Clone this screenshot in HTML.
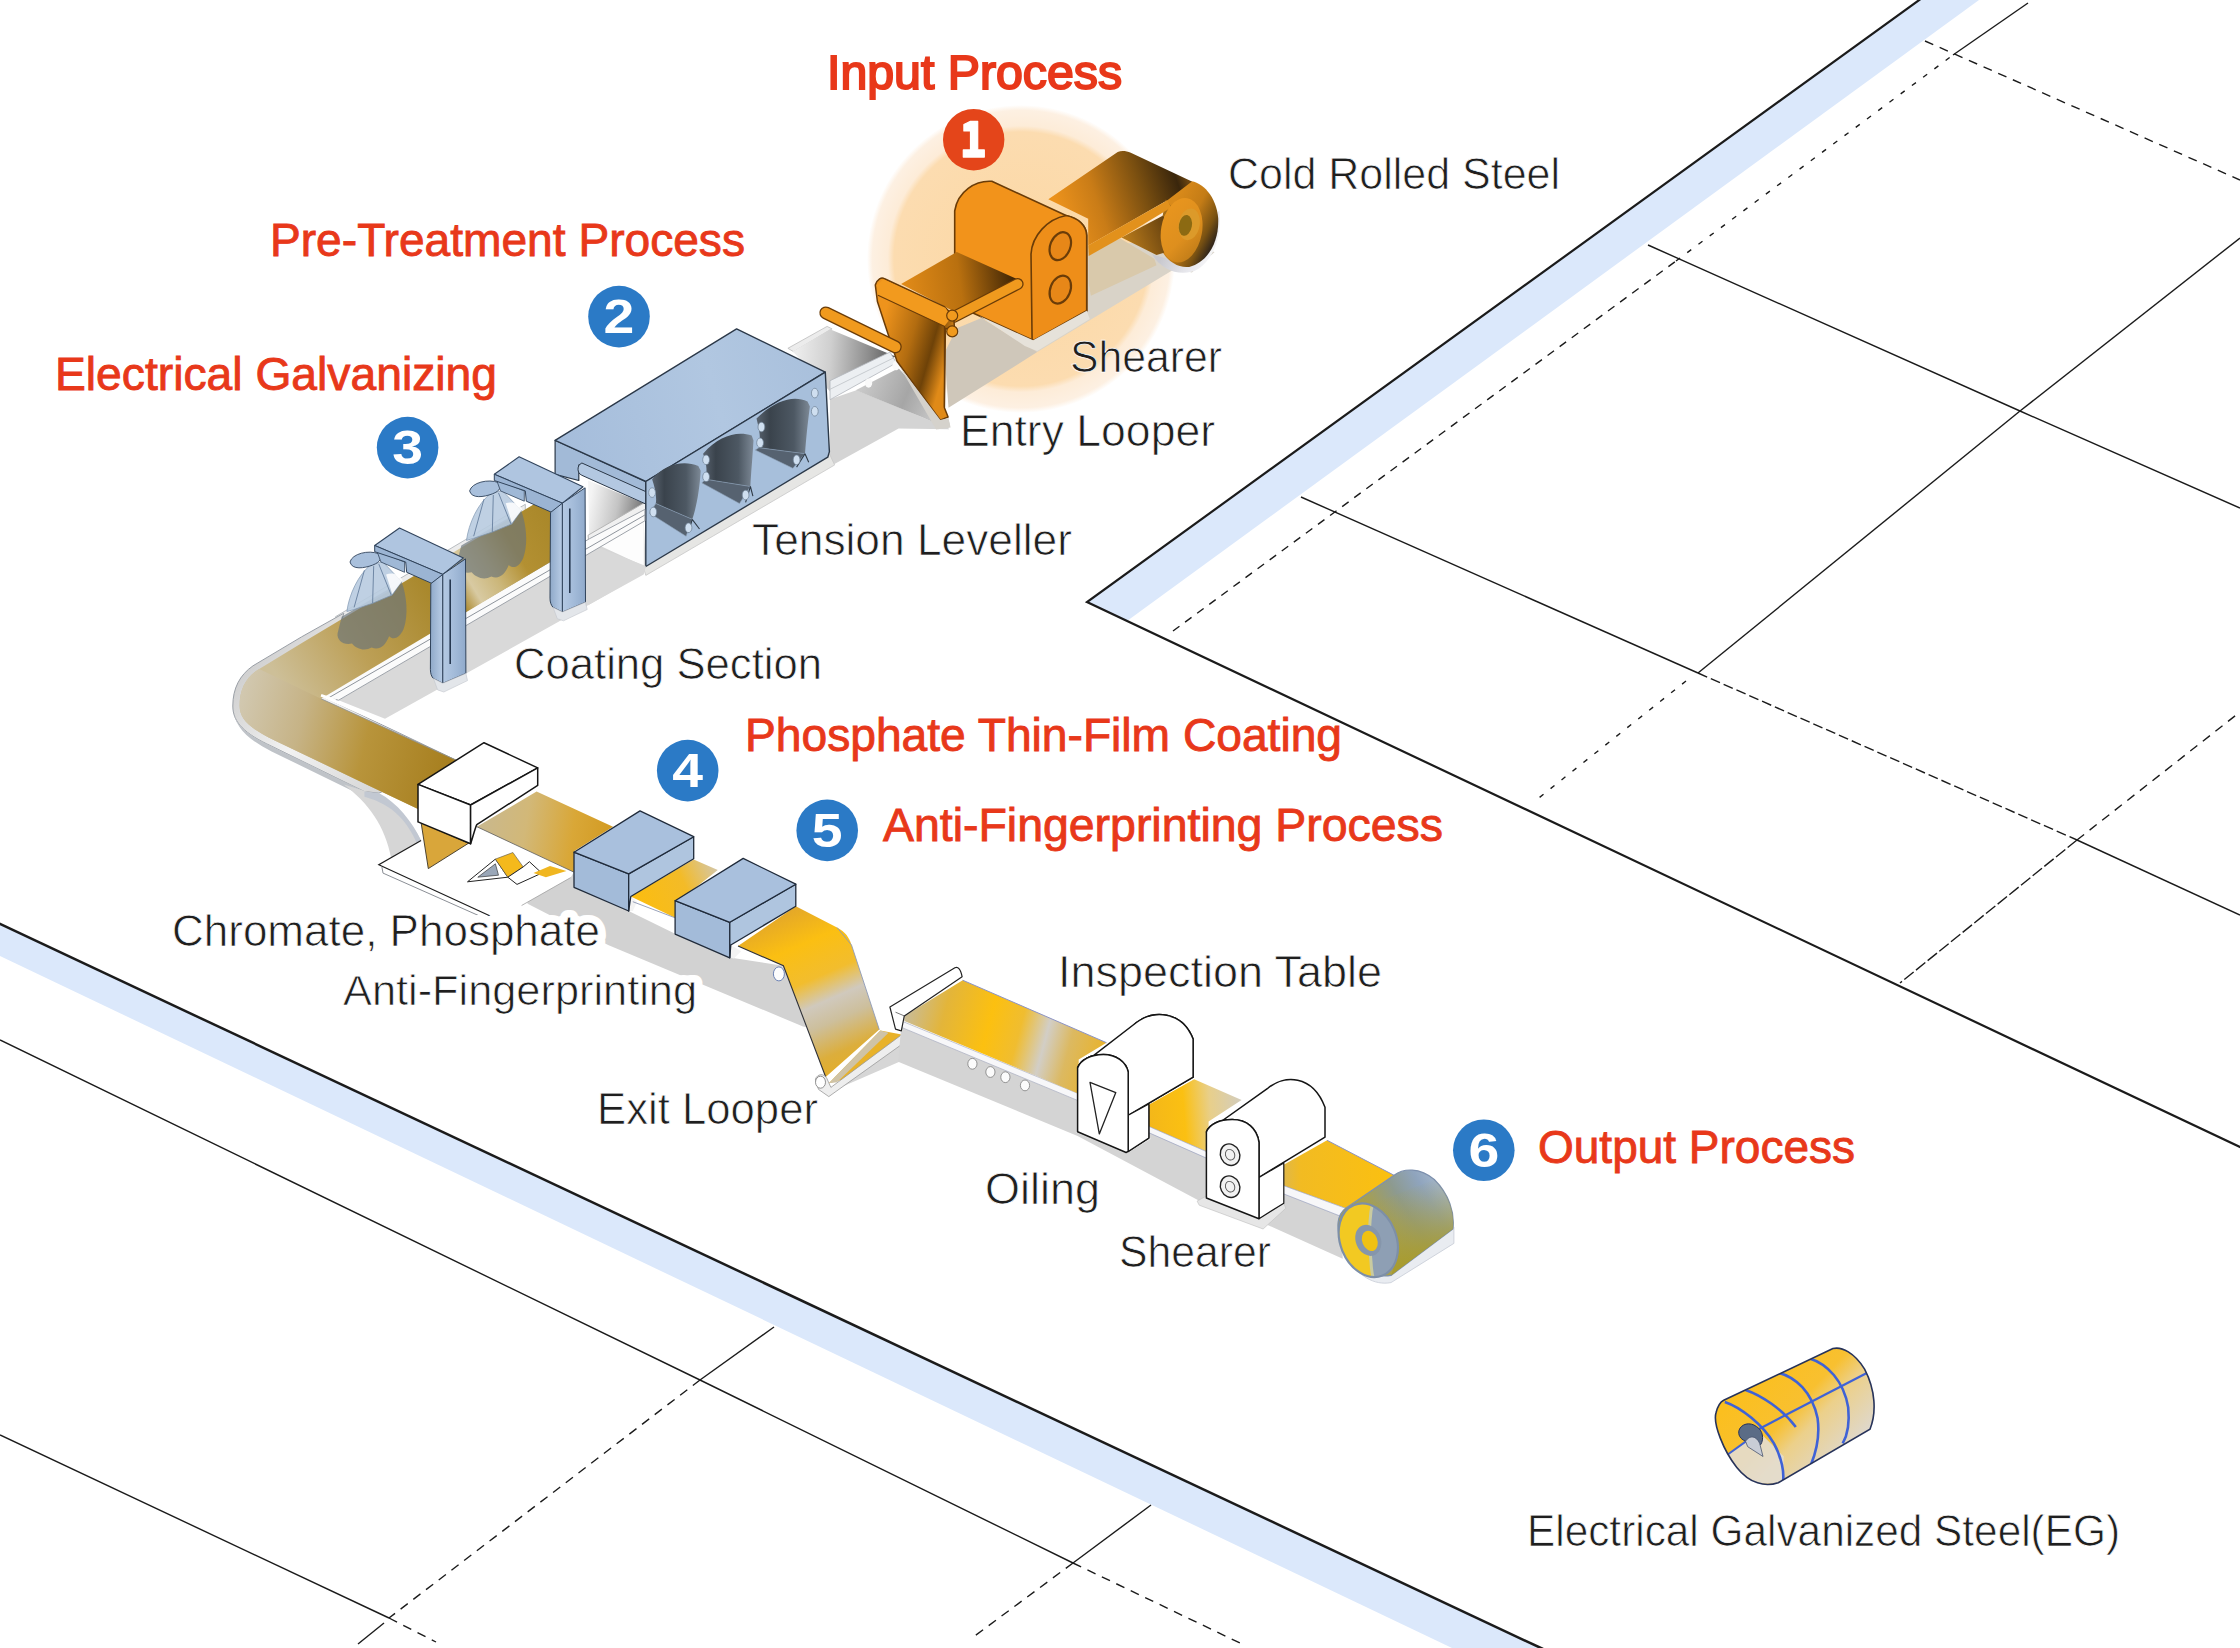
<!DOCTYPE html>
<html><head><meta charset="utf-8"><title>Electrical Galvanizing Process</title>
<style>
html,body{margin:0;padding:0;background:#fff;}
body{width:2240px;height:1648px;overflow:hidden;font-family:"Liberation Sans",sans-serif;}
svg{display:block}
text{font-family:"Liberation Sans",sans-serif;}
.h{fill:#e8381a;stroke:#e8381a;stroke-width:0.9;}
.l{fill:#1f1f1f;stroke:#fff;stroke-width:0.75;}
.n{fill:#fff;font-weight:bold;text-anchor:middle;}
</style></head><body>
<svg width="2240" height="1648" viewBox="0 0 2240 1648">
<defs>

<linearGradient id="gTr2" x1="790" y1="345" x2="880" y2="365" gradientUnits="userSpaceOnUse">
 <stop offset="0" stop-color="#f2f2f2"/><stop offset="0.5" stop-color="#c9c9c9"/><stop offset="1" stop-color="#8e8e8e"/>
</linearGradient>
<linearGradient id="gTr3" x1="590" y1="500" x2="645" y2="510" gradientUnits="userSpaceOnUse">
 <stop offset="0" stop-color="#f4f4f4"/><stop offset="0.5" stop-color="#c4c4c4"/><stop offset="1" stop-color="#6e6e6e"/>
</linearGradient>
<linearGradient id="gComp" x1="0" y1="0" x2="1" y2="0.3">
 <stop offset="0" stop-color="#3c4756"/><stop offset="0.5" stop-color="#5b6a7c"/><stop offset="1" stop-color="#93a7bf"/>
</linearGradient>
<linearGradient id="gLevTop" x1="560" y1="440" x2="820" y2="370" gradientUnits="userSpaceOnUse">
 <stop offset="0" stop-color="#a5bddb"/><stop offset="0.6" stop-color="#b1c7e1"/><stop offset="1" stop-color="#a9c0dc"/>
</linearGradient>


<linearGradient id="gTrI" x1="797.1" y1="354.3" x2="891.4" y2="360.0" gradientUnits="userSpaceOnUse">
 <stop offset="0" stop-color="#ececec"/><stop offset="0.35" stop-color="#cfcfcf"/><stop offset="0.75" stop-color="#8e8e8e"/><stop offset="1" stop-color="#5f5f5f"/>
</linearGradient>
<linearGradient id="gSup" x1="860.0" y1="388.6" x2="944.3" y2="422.9" gradientUnits="userSpaceOnUse">
 <stop offset="0" stop-color="#c9c9c9"/><stop offset="0.5" stop-color="#a6a6a6"/><stop offset="1" stop-color="#d2d2d2"/>
</linearGradient>

<linearGradient id="gComp2" x1="0" y1="0" x2="1" y2="0">
 <stop offset="0" stop-color="#59636f"/><stop offset="0.25" stop-color="#3a434c"/><stop offset="0.7" stop-color="#4d5863"/><stop offset="1" stop-color="#7d8996"/>
</linearGradient>

<linearGradient id="gStripC" x1="271.6" y1="667.2" x2="560.4" y2="493.9" gradientUnits="userSpaceOnUse">
 <stop offset="0" stop-color="#cdbf98"/><stop offset="0.25" stop-color="#bda057"/><stop offset="0.52" stop-color="#a9882c"/>
 <stop offset="0.585" stop-color="#b08f38"/><stop offset="0.635" stop-color="#d8caa2"/><stop offset="0.71" stop-color="#cbb679"/><stop offset="0.80" stop-color="#b39032"/><stop offset="1" stop-color="#a58426"/>
</linearGradient>
<linearGradient id="gStripD" x1="236.5" y1="701.9" x2="455.2" y2="755.5" gradientUnits="userSpaceOnUse">
 <stop offset="0" stop-color="#d2c9b2"/><stop offset="0.3" stop-color="#c6b386"/><stop offset="0.6" stop-color="#b8943b"/><stop offset="1" stop-color="#a67e1e"/>
</linearGradient>
<linearGradient id="gRimBend" x1="232.4" y1="681.3" x2="364.4" y2="796.8" gradientUnits="userSpaceOnUse">
 <stop offset="0" stop-color="#cfcfcf"/><stop offset="0.5" stop-color="#f2f2f2"/><stop offset="1" stop-color="#d8d8d8"/>
</linearGradient>


<radialGradient id="glow" cx="1021" cy="259" r="154" gradientUnits="userSpaceOnUse">
 <stop offset="0" stop-color="#fbd7a3"/><stop offset="0.825" stop-color="#fcdcb0"/>
 <stop offset="0.865" stop-color="#fdecd8"/><stop offset="0.965" stop-color="#fdf0e2"/><stop offset="1" stop-color="#fdf0e2" stop-opacity="0"/>
</radialGradient>
<linearGradient id="gStrip1" x1="1060" y1="215" x2="1185" y2="172" gradientUnits="userSpaceOnUse">
 <stop offset="0" stop-color="#ec921c"/><stop offset="0.3" stop-color="#c97c17"/><stop offset="0.65" stop-color="#7a4f10"/><stop offset="0.92" stop-color="#3a260c"/><stop offset="1" stop-color="#6a4410"/>
</linearGradient>
<linearGradient id="gCoil" x1="1172" y1="205" x2="1220" y2="230" gradientUnits="userSpaceOnUse">
 <stop offset="0" stop-color="#d98a1a"/><stop offset="0.45" stop-color="#c47c16"/><stop offset="0.8" stop-color="#7a5212"/><stop offset="1" stop-color="#35281a"/>
</linearGradient>
<linearGradient id="gCres" x1="1170" y1="240" x2="1215" y2="262" gradientUnits="userSpaceOnUse">
 <stop offset="0" stop-color="#c9c9cf"/><stop offset="0.6" stop-color="#e9e9ee"/><stop offset="1" stop-color="#fafafa"/>
</linearGradient>
<linearGradient id="gUnder" x1="1125" y1="240" x2="1165" y2="225" gradientUnits="userSpaceOnUse">
 <stop offset="0" stop-color="#b87a1a"/><stop offset="1" stop-color="#6a4410"/>
</linearGradient>
<linearGradient id="gFace" x1="1160" y1="215" x2="1205" y2="245" gradientUnits="userSpaceOnUse">
 <stop offset="0" stop-color="#e8951e"/><stop offset="0.6" stop-color="#de8f1e"/><stop offset="1" stop-color="#c07c18"/>
</linearGradient>
<linearGradient id="gTrough" x1="905" y1="290" x2="1015" y2="275" gradientUnits="userSpaceOnUse">
 <stop offset="0" stop-color="#e08a18"/><stop offset="0.5" stop-color="#b9700f"/><stop offset="1" stop-color="#3e2405"/>
</linearGradient>
<linearGradient id="gHopper" x1="880" y1="330" x2="950" y2="350" gradientUnits="userSpaceOnUse">
 <stop offset="0" stop-color="#ee931c"/><stop offset="0.45" stop-color="#b26c10"/><stop offset="0.75" stop-color="#6e4208"/><stop offset="1" stop-color="#e08a18"/>
</linearGradient>
<linearGradient id="gGrayBed1" x1="820" y1="330" x2="900" y2="380" gradientUnits="userSpaceOnUse">
 <stop offset="0" stop-color="#e9e9e9"/><stop offset="1" stop-color="#8c8c8c"/>
</linearGradient>


<linearGradient id="gPostL" x1="0" y1="0" x2="1" y2="0">
 <stop offset="0" stop-color="#8fa9c9"/><stop offset="1" stop-color="#b9cde6"/>
</linearGradient>
<linearGradient id="gPostR" x1="0" y1="0" x2="1" y2="0">
 <stop offset="0" stop-color="#b4c9e3"/><stop offset="0.5" stop-color="#a3bbd9"/><stop offset="1" stop-color="#90aacb"/>
</linearGradient>


<linearGradient id="gStripE" x1="477.8" y1="825.7" x2="611.9" y2="846.3" gradientUnits="userSpaceOnUse">
 <stop offset="0" stop-color="#c9b88e"/><stop offset="0.35" stop-color="#d2b878"/><stop offset="0.7" stop-color="#d9a737"/><stop offset="1" stop-color="#d29a22"/>
</linearGradient>
<linearGradient id="gHang" x1="777.2" y1="912.0" x2="849.4" y2="1077.0" gradientUnits="userSpaceOnUse">
 <stop offset="0" stop-color="#e2a62a"/><stop offset="0.22" stop-color="#fbbf12"/><stop offset="0.42" stop-color="#f2bd2e"/><stop offset="0.56" stop-color="#d0c9bd"/><stop offset="0.68" stop-color="#cdbf9c"/><stop offset="0.85" stop-color="#dcae3c"/><stop offset="1" stop-color="#e6ad22"/>
</linearGradient>
<linearGradient id="gMid" x1="637.0" y1="903.8" x2="715.3" y2="868.7" gradientUnits="userSpaceOnUse">
 <stop offset="0" stop-color="#fbbd10"/><stop offset="0.6" stop-color="#f3bb28"/><stop offset="1" stop-color="#d6c6a0"/>
</linearGradient>


<linearGradient id="gInsp" x1="904.3" y1="1018.4" x2="1105.5" y2="1072.0" gradientUnits="userSpaceOnUse">
 <stop offset="0" stop-color="#c9bc98"/><stop offset="0.18" stop-color="#e3b53a"/><stop offset="0.40" stop-color="#fcc010"/><stop offset="0.55" stop-color="#f0bd30"/>
 <stop offset="0.68" stop-color="#d2cec6"/><stop offset="0.80" stop-color="#dcb961"/><stop offset="1" stop-color="#eab223"/>
</linearGradient>
<linearGradient id="gS2" x1="1136.4" y1="1111.2" x2="1241.6" y2="1103.0" gradientUnits="userSpaceOnUse">
 <stop offset="0" stop-color="#f1b41c"/><stop offset="0.45" stop-color="#fbc012"/><stop offset="0.7" stop-color="#e8cf8a"/><stop offset="1" stop-color="#d3cdbd"/>
</linearGradient>
<linearGradient id="gS3" x1="1261.1" y1="1177.4" x2="1393.1" y2="1177.4" gradientUnits="userSpaceOnUse">
 <stop offset="0" stop-color="#c9b47a"/><stop offset="0.3" stop-color="#f2bb22"/><stop offset="1" stop-color="#fbc010"/>
</linearGradient>
<linearGradient id="gOutCoil" x1="1366.3" y1="1206.3" x2="1428.2" y2="1169.1" gradientUnits="userSpaceOnUse">
 <stop offset="0" stop-color="#a9a04a"/><stop offset="0.45" stop-color="#8d9a8f"/><stop offset="0.8" stop-color="#8fa4bd"/><stop offset="1" stop-color="#9fb2c8"/>
</linearGradient>
<linearGradient id="gOutCoil2" x1="1407.5" y1="1185.7" x2="1428.2" y2="1257.8" gradientUnits="userSpaceOnUse">
 <stop offset="0" stop-color="#a9a04a" stop-opacity="0"/><stop offset="1" stop-color="#a89c30"/>
</linearGradient>

<clipPath id="cFace"><ellipse cx="1368.3" cy="1240.3" rx="28" ry="38" transform="rotate(-22 1368.3 1240.3)"/></clipPath>

<linearGradient id="gEG" x1="1756.4" y1="1374.6" x2="1843.8" y2="1456.5" gradientUnits="userSpaceOnUse">
 <stop offset="0" stop-color="#fbbf1f"/><stop offset="0.42" stop-color="#f8c030"/><stop offset="0.62" stop-color="#ecd08a"/><stop offset="1" stop-color="#dfd8cc"/>
</linearGradient>
<clipPath id="cEG"><path d="M1723.7,1400.3 L1832.9,1348.6 C1841.6,1346.2 1854.7,1352.8 1864.6,1369.1 C1875.5,1389.9 1876.6,1412.8 1870.0,1429.2 L1778.3,1482.7 C1765.2,1487.1 1749.9,1483.8 1736.8,1467.4 C1723.7,1451.1 1712.8,1423.8 1716.0,1412.8 C1717.7,1406.3 1720.4,1401.9 1723.7,1400.3 Z"/></clipPath>

</defs>
<rect x="0" y="0" width="2240" height="1648" fill="#ffffff"/>
<polygon points="1087.0,602.0 1920.0,0.0 1979.0,0.0 1127.0,621.0" fill="#dbe8fb" stroke="none" stroke-width="1" />
<polygon points="0.0,924.0 1542.0,1648.0 1452.0,1648.0 0.0,956.0" fill="#dbe8fb" stroke="none" stroke-width="1" />
<polyline points="1922.0,-2.0 1087.0,602.0 2242.0,1148.0" fill="none" stroke="#1b1b1b" stroke-width="2.2" stroke-linejoin="miter"/>
<polyline points="-2.0,923.0 1543.0,1649.0" fill="none" stroke="#1b1b1b" stroke-width="2.5" />
<polyline points="1173.0,631.0 1676.0,261.0" fill="none" stroke="#1b1b1b" stroke-width="1.4" stroke-dasharray="8 7"/>
<polyline points="1676.0,261.0 1953.0,55.0" fill="none" stroke="#1b1b1b" stroke-width="1.4" stroke-dasharray="5 9"/>
<polyline points="1953.0,55.0 2028.0,3.0" fill="none" stroke="#1b1b1b" stroke-width="1.4" />
<polyline points="1925.0,41.0 2240.0,180.0" fill="none" stroke="#1b1b1b" stroke-width="1.4" stroke-dasharray="9 7"/>
<polyline points="1648.0,245.0 2020.0,411.0 2240.0,508.0" fill="none" stroke="#1b1b1b" stroke-width="1.4" />
<polyline points="2020.0,411.0 2240.0,238.0" fill="none" stroke="#1b1b1b" stroke-width="1.4" />
<polyline points="1301.0,497.0 1698.0,673.0" fill="none" stroke="#1b1b1b" stroke-width="1.4" />
<polyline points="1698.0,673.0 2077.0,840.0" fill="none" stroke="#1b1b1b" stroke-width="1.4" stroke-dasharray="10 4"/>
<polyline points="2077.0,840.0 2240.0,915.0" fill="none" stroke="#1b1b1b" stroke-width="1.4" />
<polyline points="1698.0,673.0 2020.0,411.0" fill="none" stroke="#1b1b1b" stroke-width="1.4" />
<polyline points="1686.0,681.0 1535.0,801.0" fill="none" stroke="#1b1b1b" stroke-width="1.4" stroke-dasharray="5 9"/>
<polyline points="2077.0,840.0 2240.0,712.0" fill="none" stroke="#1b1b1b" stroke-width="1.4" stroke-dasharray="9 7"/>
<polyline points="2077.0,840.0 1900.0,983.0" fill="none" stroke="#1b1b1b" stroke-width="1.4" stroke-dasharray="12 3"/>
<polyline points="0.0,1040.0 700.0,1380.0 1073.0,1563.0" fill="none" stroke="#1b1b1b" stroke-width="1.4" />
<polyline points="700.0,1380.0 774.0,1327.0" fill="none" stroke="#1b1b1b" stroke-width="1.4" />
<polyline points="700.0,1380.0 389.0,1618.0" fill="none" stroke="#1b1b1b" stroke-width="1.4" stroke-dasharray="9 7"/>
<polyline points="0.0,1435.0 389.0,1618.0" fill="none" stroke="#1b1b1b" stroke-width="1.4" />
<polyline points="389.0,1618.0 436.0,1642.0" fill="none" stroke="#1b1b1b" stroke-width="1.4" stroke-dasharray="9 7"/>
<polyline points="384.0,1623.0 358.0,1644.0" fill="none" stroke="#1b1b1b" stroke-width="1.4" />
<polyline points="1073.0,1563.0 1151.0,1505.0" fill="none" stroke="#1b1b1b" stroke-width="1.4" />
<polyline points="1073.0,1563.0 972.0,1638.0" fill="none" stroke="#1b1b1b" stroke-width="1.4" stroke-dasharray="9 7"/>
<polyline points="1073.0,1563.0 1242.0,1644.0" fill="none" stroke="#1b1b1b" stroke-width="1.4" stroke-dasharray="9 7"/>
<circle cx="1021" cy="259" r="154" fill="url(#glow)"/>
<polygon points="830.0,399.3 856.4,390.3 922.9,417.4 949.3,429.3 898.6,428.6 830.0,466.4" fill="#d4d4d4" stroke="none" stroke-width="1" />
<polygon points="855.7,390.3 898.6,368.3 937.1,410.0 949.7,422.9 948.3,429.3 922.9,417.4" fill="url(#gSup)" stroke="none" stroke-width="1" />
<polygon points="787.9,348.3 827.1,326.4 832.1,328.9 793.6,351.7" fill="#ececec" stroke="#bdbdbd" stroke-width="0.8" />
<polygon points="792.9,351.4 830.0,329.3 895.7,356.4 830.0,391.4" fill="url(#gTrI)" stroke="none" stroke-width="1" />
<polygon points="830.0,380.7 890.0,352.1 896.4,362.9 830.0,399.7" fill="#eceff2" stroke="#b2b6bc" stroke-width="0.8" />
<polyline points="830.0,389.3 893.6,357.9" fill="none" stroke="#c3c7cc" stroke-width="0.9" />
<ellipse cx="868.6" cy="383.1" rx="3.6" ry="4.6" fill="#fafafa"/>
<ellipse cx="896.0" cy="365.7" rx="3.6" ry="4.6" fill="#fafafa"/>
<polygon points="642.7,565.1 829.4,453.7 834.6,465.0 645.8,575.4" fill="#e6e6e4" stroke="#c8c8c8" stroke-width="0.8" />
<polygon points="588.1,480.5 643.8,503.2 643.8,506.3 589.1,535.2" fill="url(#gTr3)" stroke="none" stroke-width="1" />
<polygon points="588.1,535.2 646.2,501.7 646.2,516.6 589.1,547.5" fill="#f0f0f0" stroke="#b5b5b5" stroke-width="1" />
<polygon points="598.4,546.5 643.8,521.7 645.8,566.1 643.8,573.3 588.1,605.3 588.1,552.7" fill="#d6d6d6" stroke="none" stroke-width="1" />
<polygon points="599.4,545.5 643.8,520.7 643.8,566.1" fill="#fdfdfd" stroke="none" stroke-width="1" />
<polygon points="555.1,440.3 645.8,481.5 645.8,492.9 581.9,464.0 578.8,465.0 578.8,480.5 555.1,474.3" fill="#a2bad7" stroke="#2b3848" stroke-width="1.2" stroke-linejoin="round"/>
<path d="M581.9,463.0 L646.2,491.8 L646.2,504.2 L581.9,475.3 C576.7,473.3 576.7,465.0 581.9,463.0 Z" fill="#b3c8e1" stroke="#2b3848" stroke-width="1" />
<polygon points="555.1,440.3 736.6,328.9 825.3,372.2 645.8,481.5" fill="url(#gLevTop)" stroke="#2b3848" stroke-width="1.4" stroke-linejoin="round"/>
<polygon points="645.8,481.5 825.3,372.2 829.4,451.6 827.8,457.2 645.8,566.5" fill="#a7bfdb" stroke="#2b3848" stroke-width="1.4" stroke-linejoin="round"/>
<path d="M652.1,479.2 C664.3,464.7 682.5,459.8 698.3,465.9 L700.7,470.7 C699.5,491.4 695.8,509.6 692.2,519.3 L655.8,503.5 C657.0,496.2 654.6,486.5 652.1,479.2 Z" fill="url(#gComp2)" stroke="none" stroke-width="1" />
<path d="M703.1,453.7 C718.9,435.5 737.1,430.7 751.7,435.5 L753.5,440.4 C752.3,461.0 751.0,473.2 750.4,486.5 L705.5,479.2 C708.0,469.5 705.5,461.0 703.1,453.7 Z" fill="url(#gComp2)" stroke="none" stroke-width="1" />
<path d="M756.5,418.5 C773.5,401.6 792.9,394.3 807.5,401.6 L809.9,406.4 C807.5,424.6 806.3,436.7 805.0,453.7 L758.9,447.7 C761.4,438.0 758.9,428.3 756.5,418.5 Z" fill="url(#gComp2)" stroke="none" stroke-width="1" />
<path d="M649.7,513.2 L655.8,503.5 L692.2,519.3 L686.1,536.3 Z" fill="#566270" stroke="#8ea2b8" stroke-width="0.6" />
<path d="M701.9,482.9 L705.5,479.2 L750.4,486.5 L739.5,503.5 Z" fill="#566270" stroke="#8ea2b8" stroke-width="0.6" />
<path d="M755.3,450.1 L758.9,447.7 L805.0,453.7 L792.9,468.3 Z" fill="#566270" stroke="#8ea2b8" stroke-width="0.6" />
<path d="M692.2,519.3 L699.5,529.0 M692.2,519.3 L688.5,532.6" fill="none" stroke="#2f3a46" stroke-width="1.1" />
<path d="M750.4,486.5 L745.6,502.3 M750.4,486.5 L752.9,496.2" fill="none" stroke="#2f3a46" stroke-width="1.1" />
<path d="M805.0,453.7 L796.6,467.1 M805.0,453.7 L808.7,462.2" fill="none" stroke="#2f3a46" stroke-width="1.1" />
<ellipse cx="652.1" cy="492.6" rx="3.4" ry="4.8" fill="#cfdff0" stroke="#6d7f94" stroke-width="0.7"/>
<ellipse cx="653.3" cy="512.0" rx="3.4" ry="4.8" fill="#cfdff0" stroke="#6d7f94" stroke-width="0.7"/>
<ellipse cx="706.1" cy="459.8" rx="3.4" ry="4.8" fill="#cfdff0" stroke="#6d7f94" stroke-width="0.7"/>
<ellipse cx="706.1" cy="476.8" rx="3.4" ry="4.8" fill="#cfdff0" stroke="#6d7f94" stroke-width="0.7"/>
<ellipse cx="761.4" cy="427.0" rx="3.4" ry="4.8" fill="#cfdff0" stroke="#6d7f94" stroke-width="0.7"/>
<ellipse cx="760.1" cy="442.8" rx="3.4" ry="4.8" fill="#cfdff0" stroke="#6d7f94" stroke-width="0.7"/>
<ellipse cx="814.8" cy="393.1" rx="3.4" ry="4.8" fill="#cfdff0" stroke="#6d7f94" stroke-width="0.7"/>
<ellipse cx="814.8" cy="411.3" rx="3.4" ry="4.8" fill="#cfdff0" stroke="#6d7f94" stroke-width="0.7"/>
<ellipse cx="688.5" cy="527.8" rx="3.4" ry="4.8" fill="#cfdff0" stroke="#6d7f94" stroke-width="0.7"/>
<ellipse cx="745.6" cy="495.0" rx="3.4" ry="4.8" fill="#cfdff0" stroke="#6d7f94" stroke-width="0.7"/>
<ellipse cx="796.6" cy="459.8" rx="3.4" ry="4.8" fill="#cfdff0" stroke="#6d7f94" stroke-width="0.7"/>
<polygon points="338.6,700.2 588.2,553.4 598.3,547.6 645.8,566.1 643.7,574.4 588.0,605.3 385.0,718.8" fill="#d9d9d9" stroke="none" stroke-width="1" />
<polygon points="321.1,696.1 589.2,538.9 644.9,509.4 644.9,520.8 338.6,700.2" fill="#fbfbfb" stroke="#9ea3aa" stroke-width="1" />
<polyline points="328.9,697.7 644.9,515.0" fill="none" stroke="#8e949c" stroke-width="1" />
<path d="M335.5,616.7 L525.3,504.3 L525.3,512.5 L339.6,624.9 Z" fill="#ececec" stroke="#a8adb3" stroke-width="0.8" />
<path d="M301.5,636.9 L253.0,665.8 C239.6,675.1 232.8,688.5 232.8,706.0 C232.8,722.5 244.8,733.9 271.6,746.2 L364.4,791.6 L378.8,793.1 L457.2,760.7 L321.1,695.7 L343.8,613.2 Z" fill="url(#gRimBend)" stroke="#9a9fa6" stroke-width="1" />
<path d="M232.8,708.1 C234.4,726.6 246.8,739.0 271.6,751.4 L364.4,796.8 L376.8,793.7 L364.4,791.6 L271.6,746.2 C244.8,733.9 232.8,722.5 232.8,706.0 Z" fill="#bfc3c8" stroke="none" stroke-width="1" />
<path d="M303.5,642.1 L259.2,668.9 C245.8,677.1 239.6,689.5 239.6,705.6 C239.6,720.4 250.9,728.7 274.7,740.5 L368.5,785.4 L419.1,809.6 L456.2,760.1 L321.1,698.8 L560.4,556.0 L560.4,488.4 Z" fill="url(#gStripC)" stroke="none" stroke-width="1" />
<path d="M259.2,668.9 C245.8,677.1 239.6,689.5 239.6,705.6 C239.6,720.4 250.9,728.7 274.7,740.5 L368.5,785.4 L419.1,809.6 L456.2,760.1 L321.1,698.8 Z" fill="url(#gStripD)" stroke="none" stroke-width="1" />
<polyline points="455.2,755.5 321.1,695.3 335.5,700.2" fill="none" stroke="#ffffff" stroke-width="2.5" />
<polyline points="456.2,760.1 321.1,698.8" fill="none" stroke="#8e949c" stroke-width="0.8" />
<path d="M343.8,784.4 L373.7,793.7 C395.3,803.0 411.8,821.5 421.1,840.5 L391.2,858.2 C385.0,825.7 368.5,803.0 343.8,784.4 Z" fill="#d6d6d6" stroke="none" stroke-width="1" />
<path d="M364.4,791.6 L378.8,793.1 C397.4,803.0 411.8,821.5 421.1,840.5 L417.0,843.2 C407.7,823.6 395.3,805.0 364.4,796.8 Z" fill="#c2c8d2" stroke="none" stroke-width="1" />
<polygon points="1087.8,245.8 1165.1,240.7 1214.6,252.0 1191.9,272.6 1175.4,268.5 1037.2,352.1 1020.7,344.8 1086.7,311.8" fill="#d9d3c8" stroke="none" stroke-width="1" />
<polygon points="956.8,328.3 981.5,318.0 1022.8,343.8 1037.2,352.1 948.5,407.8 944.4,353.1" fill="#cfc7ba" stroke="none" stroke-width="1" />
<path d="M1152.1,254.3 C1163.0,272.9 1184.8,277.3 1199.0,268.5 C1214.3,257.6 1222.0,235.8 1219.3,210.7 L1208.9,218.3 L1178.3,262.0 Z" fill="url(#gCres)" stroke="none" stroke-width="1" />
<polygon points="1088.7,251.6 1120.4,238.5 1154.3,258.7 1156.5,265.3 1090.9,295.8 1088.7,283.8" fill="#d9c9ab" stroke="none" stroke-width="1" />
<path d="M1189.2,180.9 C1202.3,181.2 1216.5,196.5 1218.2,218.3 C1219.3,240.1 1208.9,262.0 1189.2,266.9 C1178.3,268.5 1167.4,260.9 1161.9,251.1 L1163.0,216.1 L1166.3,199.7 Z" fill="url(#gCoil)" stroke="none" stroke-width="1" />
<polygon points="1121.5,237.4 1164.1,215.0 1164.1,252.7 1156.5,254.9" fill="url(#gUnder)" stroke="none" stroke-width="1" />
<path d="M1117.7,151.9 C1121.5,150.6 1126.4,150.9 1130.8,152.8 L1191.9,181.4 L1167.4,200.3 L1088.2,245.6 L1088.2,218.8 L1048.3,199.2 Z" fill="url(#gStrip1)" stroke="none" stroke-width="1" />
<polygon points="1165.7,199.5 1172.3,207.4 1164.6,216.1 1162.5,216.7" fill="#a46c16" stroke="none" stroke-width="1" />
<polygon points="1088.2,245.6 1167.4,200.3 1171.2,207.4 1123.7,236.3 1088.7,256.0" fill="#e2911c" stroke="none" stroke-width="1" />
<ellipse cx="1181.6" cy="230.3" rx="20.5" ry="32.5" transform="rotate(10 1181.6 230.3)" fill="url(#gFace)"/>
<ellipse cx="1189.2" cy="224.3" rx="10.5" ry="16" transform="rotate(10 1189.2 224.3)" fill="#dc9a2a"/>
<ellipse cx="1185.4" cy="225.4" rx="6.5" ry="10.5" transform="rotate(10 1185.4 225.4)" fill="#8c6a12"/>
<path d="M954.7,245.8 L954.7,210.8 C957.8,191.2 975.3,180.2 991.8,181.3 L1066.1,215.5 C1078.5,219.0 1086.3,225.2 1086.7,235.5 L1086.7,310.8 L1033.1,340.3 L954.7,304.8 Z" fill="#f2931b" stroke="#6a3c08" stroke-width="1.6" stroke-linejoin="round"/>
<polygon points="901.1,284.0 956.8,252.0 1018.7,279.9 958.8,313.9" fill="url(#gTrough)" stroke="none" stroke-width="1" />
<line x1="953.7" y1="317.0" x2="1017.6" y2="284.0" stroke="#6a3c08" stroke-width="12" stroke-linecap="round"/>
<line x1="953.7" y1="317.0" x2="1017.6" y2="284.0" stroke="#f09a1e" stroke-width="9.4" stroke-linecap="round"/>
<path d="M1032.1,339.7 L1031.0,254.1 C1032.1,235.5 1047.5,219.0 1066.1,215.5 C1078.5,218.0 1086.3,225.2 1086.7,235.5 L1086.7,310.8 L1034.1,340.3 Z" fill="#ee8e19" stroke="#6a3c08" stroke-width="1.6" stroke-linejoin="round"/>
<ellipse cx="1060.3" cy="246.2" rx="10" ry="14.5" transform="rotate(22 1060.3 246.2)" fill="#e78718" stroke="#6a3c08" stroke-width="2.2"/>
<ellipse cx="1060.3" cy="289.6" rx="10" ry="14.5" transform="rotate(22 1060.3 289.6)" fill="#e78718" stroke="#6a3c08" stroke-width="2.2"/>
<polygon points="979.5,316.0 1033.1,340.3 1086.7,310.8 1089.8,319.1 1037.2,351.0 1024.8,345.9" fill="#e6e2da" stroke="none" stroke-width="1" />
<path d="M875.3,285.0 C877.4,278.8 881.5,276.8 884.6,278.8 L944.4,306.7 L953.7,316.0 L954.7,332.5 L945.4,328.3 L944.4,407.8 L948.1,417.0 L940.3,420.1 L897.0,361.3 L877.4,301.5 Z" fill="url(#gHopper)" stroke="#6a3c08" stroke-width="1.5" stroke-linejoin="round"/>
<polygon points="876.7,285.0 883.5,279.2 945.4,307.7 951.6,317.0 944.4,326.3 878.0,295.3" fill="#f29a1e" stroke="none" stroke-width="1" />
<polyline points="878.0,295.3 944.4,326.3 944.4,406.7" fill="none" stroke="#6a3c08" stroke-width="1.2" />
<circle cx="952.2" cy="315.6" r="5.5" fill="#f09a1e" stroke="#6a3c08" stroke-width="1.2"/>
<circle cx="952.2" cy="331.4" r="5.5" fill="#f09a1e" stroke="#6a3c08" stroke-width="1.2"/>
<polygon points="899.0,365.5 940.3,420.1 948.5,418.1 950.6,427.4 936.1,429.4" fill="#d5d2cc" stroke="none" stroke-width="1" />
<line x1="825.8" y1="312.9" x2="895.3" y2="346.9" stroke="#6a3c08" stroke-width="13" stroke-linecap="round"/>
<line x1="825.8" y1="312.9" x2="895.3" y2="346.9" stroke="#f09a1e" stroke-width="10.4" stroke-linecap="round"/>
<path d="M461.3,545.5 L521.2,510.4 C526.3,523.9 528.4,544.5 523.2,557.9 C519.1,567.2 512.9,569.2 508.8,565.1 C504.7,575.4 498.5,579.6 491.3,576.5 C484.0,580.6 475.8,577.5 471.7,572.3 C463.4,574.4 456.2,569.2 457.2,562.0 Z" fill="#687379" stroke="none" stroke-width="1" opacity="0.66"/>
<path d="M491.3,492.9 L502.6,490.9 L521.2,510.4 L511.9,523.9 L492.3,532.1 L473.7,538.3 L466.5,540.4 C468.6,523.9 477.8,503.2 491.3,492.9 Z" fill="#b9cce0" stroke="#7f97b3" stroke-width="0.8" opacity="0.9"/>
<path d="M484.0,499.1 L473.7,536.2 M493.3,495.0 L492.3,532.1 M498.5,492.9 L510.9,523.9" fill="none" stroke="#6f87a5" stroke-width="1" />
<path d="M505.7,503.2 C512.9,501.2 519.1,503.2 522.2,509.4 L511.9,522.8 Z" fill="#ffffff" stroke="none" stroke-width="1" opacity="0.85"/>
<path d="M469.6,490.9 C471.7,482.6 488.2,478.5 498.5,482.6 C502.6,485.7 500.5,490.9 492.3,493.9 C484.0,497.0 471.7,499.1 469.6,490.9 Z" fill="#a9c0dc" stroke="#31445c" stroke-width="0.9" />
<path d="M496.4,479.5 L524.3,490.9 L524.3,501.2 L500.5,490.9 Z" fill="#9fb8d6" stroke="#31445c" stroke-width="0.8" />
<polygon points="494.3,474.3 519.1,456.8 583.0,486.7 562.4,503.2" fill="#afc5e0" stroke="#31445c" stroke-width="1.1" stroke-linejoin="round"/>
<polygon points="494.3,474.3 562.4,503.2 552.1,512.5 526.3,501.2 525.3,490.9 494.3,480.5" fill="#9bb4d3" stroke="#31445c" stroke-width="1" stroke-linejoin="round"/>
<path d="M550.5,512.5 L562.4,503.2 L562.4,612.1 L553.1,607.4 C551.1,605.3 550.0,602.2 550.0,598.1 Z" fill="url(#gPostL)" stroke="#31445c" stroke-width="1" stroke-linejoin="round"/>
<polygon points="562.4,503.2 585.1,487.8 585.5,602.2 562.4,612.1" fill="url(#gPostR)" stroke="#31445c" stroke-width="1" stroke-linejoin="round"/>
<polyline points="569.8,508.4 569.8,593.0" fill="none" stroke="#263850" stroke-width="1.6" />
<polygon points="553.1,607.4 562.4,612.1 585.5,602.2 587.2,609.5 563.5,620.8 557.3,618.7" fill="#e3e6ea" stroke="#c2c6cc" stroke-width="0.6" />
<path d="M341.7,616.7 L401.5,581.6 C406.7,595.0 408.7,615.7 403.6,629.1 C399.5,638.3 393.3,640.4 389.1,636.3 C385.0,646.6 378.8,650.7 371.6,647.6 C364.4,651.7 356.1,648.7 352.0,643.5 C343.8,645.6 336.5,640.4 337.6,633.2 Z" fill="#687379" stroke="none" stroke-width="1" opacity="0.66"/>
<path d="M371.6,564.1 L383.0,562.0 L401.5,581.6 L392.2,595.0 L372.6,603.3 L354.1,609.5 L346.9,611.5 C348.9,595.0 358.2,574.4 371.6,564.1 Z" fill="#b9cce0" stroke="#7f97b3" stroke-width="0.8" opacity="0.9"/>
<path d="M364.4,570.3 L354.1,607.4 M373.7,566.1 L372.6,603.3 M378.8,564.1 L391.2,595.0" fill="none" stroke="#6f87a5" stroke-width="1" />
<path d="M386.1,574.4 C393.3,572.3 399.5,574.4 402.6,580.6 L392.2,594.0 Z" fill="#ffffff" stroke="none" stroke-width="1" opacity="0.85"/>
<path d="M350.0,562.0 C352.0,553.8 368.5,549.6 378.8,553.8 C383.0,556.9 380.9,562.0 372.6,565.1 C364.4,568.2 352.0,570.3 350.0,562.0 Z" fill="#a9c0dc" stroke="#31445c" stroke-width="0.9" />
<path d="M376.8,550.7 L404.6,562.0 L404.6,572.3 L380.9,562.0 Z" fill="#9fb8d6" stroke="#31445c" stroke-width="0.8" />
<polygon points="374.7,545.5 399.5,528.0 463.4,557.9 442.8,574.4" fill="#afc5e0" stroke="#31445c" stroke-width="1.1" stroke-linejoin="round"/>
<polygon points="374.7,545.5 442.8,574.4 432.5,583.7 406.7,572.3 405.7,562.0 374.7,551.7" fill="#9bb4d3" stroke="#31445c" stroke-width="1" stroke-linejoin="round"/>
<path d="M430.8,583.7 L442.8,574.4 L442.8,683.3 L433.5,678.6 C431.4,676.5 430.4,673.4 430.4,669.3 Z" fill="url(#gPostL)" stroke="#31445c" stroke-width="1" stroke-linejoin="round"/>
<polygon points="442.8,574.4 465.5,558.9 465.9,673.4 442.8,683.3" fill="url(#gPostR)" stroke="#31445c" stroke-width="1" stroke-linejoin="round"/>
<polyline points="450.2,579.6 450.2,664.1" fill="none" stroke="#263850" stroke-width="1.6" />
<polygon points="433.5,678.6 442.8,683.3 465.9,673.4 467.5,680.6 443.8,692.0 437.6,689.9" fill="#e3e6ea" stroke="#c2c6cc" stroke-width="0.6" />
<path d="M524.5,886.2 L574.0,862.5 L574.0,887.3 L628.7,911.0 L675.1,933.7 L729.8,957.4 L783.4,965.7 L808.2,1027.5 L803.0,1026.5 L608.1,945.0 L527.6,903.8 Z" fill="#d2d2d2" stroke="none" stroke-width="1" />
<path d="M630.8,896.5 L637.0,901.7 L632.8,911.0 L628.7,911.0 Z M730.8,945.0 L741.1,951.2 L733.9,958.4 L729.8,957.4 Z" fill="#f3f3f3" stroke="none" stroke-width="1" />
<polygon points="378.8,864.8 421.1,840.5 477.8,825.7 573.8,872.1 570.7,877.6 521.6,905.5 490.2,916.0" fill="#ffffff" stroke="none" stroke-width="1" />
<polyline points="421.1,840.5 378.8,864.8 490.2,916.0" fill="none" stroke="#1c1c1c" stroke-width="1.2" />
<polyline points="381.9,866.9 383.0,873.1 486.1,918.9" fill="none" stroke="#8b8f96" stroke-width="1" />
<polyline points="521.6,905.5 570.7,877.6" fill="none" stroke="#a0a0a0" stroke-width="0.8" />
<path d="M467.5,881.8 L495.4,859.1 L507.8,877.2 Z" fill="#ffffff" stroke="#222" stroke-width="1" />
<path d="M495.4,859.1 L512.9,852.5 L523.2,866.9 L507.8,877.2 Z" fill="#f4b91c" stroke="#555" stroke-width="0.6" />
<path d="M507.8,877.2 L517.0,884.4 L541.8,873.1 L529.4,861.7 L523.2,866.9 Z" fill="#ffffff" stroke="#222" stroke-width="1" />
<path d="M533.5,873.1 L550.0,865.9 L566.5,871.0 L545.9,877.2 Z" fill="#f0b620" stroke="none" stroke-width="1" />
<path d="M477.8,877.2 L495.4,863.8 L498.5,875.2 Z" fill="#9aa7b8" stroke="#222" stroke-width="0.6" />
<polygon points="421.1,822.6 468.6,843.2 428.3,868.6" fill="#d9a63a" stroke="#3a3326" stroke-width="0.9" />
<polygon points="476.8,826.7 536.6,791.6 613.0,826.7 574.8,850.8 573.8,872.1" fill="url(#gStripE)" stroke="none" stroke-width="1" />
<polyline points="476.8,826.7 573.8,872.1" fill="none" stroke="#5b5b5b" stroke-width="0.8" />
<polygon points="418.0,784.4 484.0,742.7 537.7,767.9 470.6,805.0" fill="#ffffff" stroke="#151515" stroke-width="1.5" stroke-linejoin="round"/>
<polygon points="418.0,784.4 470.6,805.0 470.6,843.8 418.0,821.9" fill="#ffffff" stroke="#151515" stroke-width="1.5" stroke-linejoin="round"/>
<path d="M470.6,805.0 L537.7,767.9 L537.7,785.4 L476.8,824.6 C474.8,828.7 472.7,838.0 470.6,843.8 Z" fill="#ffffff" stroke="#151515" stroke-width="1.5" stroke-linejoin="round"/>
<polygon points="630.8,896.5 693.7,859.4 717.8,870.1 675.1,903.8 675.1,917.8" fill="url(#gMid)" stroke="none" stroke-width="1" />
<polyline points="632.8,901.7 675.1,917.8" fill="none" stroke="#7f8aa8" stroke-width="0.8" />
<path d="M738.0,946.1 L795.8,906.2 L837.0,927.5 C845.3,931.6 849.4,937.8 851.5,945.0 L879.3,1029.6 L825.7,1077.0 L783.4,965.7 Z" fill="url(#gHang)" stroke="none" stroke-width="1" />
<polyline points="738.0,946.1 783.4,965.7 825.7,1077.0" fill="none" stroke="#2f3138" stroke-width="1.1" />
<polyline points="837.0,927.5 851.5,945.0 879.3,1029.6" fill="none" stroke="#8e9bb8" stroke-width="0.9" />
<ellipse cx="778.9" cy="973.9" rx="5.5" ry="7" fill="#fdfdfd" stroke="#6d83b5" stroke-width="1"/>
<polygon points="828.8,1083.2 880.4,1030.6 903.0,1034.8 900.0,1039.9 845.3,1079.1" fill="#e8b22a" stroke="none" stroke-width="1" />
<polygon points="828.8,1083.2 880.4,1030.6 888.6,1032.7 837.0,1082.2" fill="#cfc3a6" stroke="none" stroke-width="1" />
<polygon points="828.8,1092.5 900.0,1061.6 900.0,1038.9 830.9,1087.4" fill="#d6d6d6" stroke="none" stroke-width="1" />
<path d="M815.4,1079.1 C817.4,1073.9 823.6,1072.9 826.7,1078.1 L830.9,1087.4 L903.0,1033.7 L905.1,1042.0 L828.8,1096.6 L818.5,1089.4 Z" fill="#eeeeee" stroke="#9a9a9a" stroke-width="0.8" />
<ellipse cx="820.5" cy="1082.2" rx="5" ry="6" fill="#ffffff" stroke="#777" stroke-width="0.8"/>
<polygon points="574.0,852.2 628.7,873.9 628.7,911.0 574.0,887.3" fill="#a3bbd9" stroke="#1f2a3a" stroke-width="1.3" stroke-linejoin="round"/>
<polygon points="628.7,873.9 693.7,836.7 693.7,858.8 630.8,896.5 628.7,911.0" fill="#afc5df" stroke="#1f2a3a" stroke-width="1.3" stroke-linejoin="round"/>
<polygon points="574.0,852.2 640.0,810.9 693.7,836.7 628.7,873.9" fill="#a9c0dd" stroke="#1f2a3a" stroke-width="1.3" stroke-linejoin="round"/>
<polygon points="675.1,900.7 729.8,922.3 729.8,957.8 675.1,934.1" fill="#a3bbd9" stroke="#1f2a3a" stroke-width="1.3" stroke-linejoin="round"/>
<polygon points="729.8,922.3 795.8,884.2 795.8,906.2 730.8,945.0 729.8,957.8" fill="#afc5df" stroke="#1f2a3a" stroke-width="1.3" stroke-linejoin="round"/>
<polygon points="675.1,900.7 743.2,858.4 795.8,884.2 729.8,922.3" fill="#a9c0dd" stroke="#1f2a3a" stroke-width="1.3" stroke-linejoin="round"/>
<path d="M898.2,1061.7 L901.3,1025.6 L1077.6,1098.8 L1208.6,1154.5 L1261.0,1184.6 L1341.5,1216.6 L1342.7,1258.7 L1266.0,1224.3 L1198.3,1200.3 L1077.6,1136.0 Z" fill="#d4d4d4" stroke="none" stroke-width="1" />
<polygon points="901.3,1020.9 1078.7,1093.7 1078.7,1100.9 902.3,1027.7" fill="#f7f7f9" stroke="#a9aec0" stroke-width="0.7" />
<ellipse cx="972.4" cy="1063.8" rx="4.6" ry="5.4" fill="#fbfbfb" stroke="#7d7d7d" stroke-width="0.8"/>
<ellipse cx="990.4" cy="1072.0" rx="4.6" ry="5.4" fill="#fbfbfb" stroke="#7d7d7d" stroke-width="0.8"/>
<ellipse cx="1005.4" cy="1077.2" rx="4.6" ry="5.4" fill="#fbfbfb" stroke="#7d7d7d" stroke-width="0.8"/>
<ellipse cx="1025.0" cy="1085.4" rx="4.6" ry="5.4" fill="#fbfbfb" stroke="#7d7d7d" stroke-width="0.8"/>
<polygon points="904.3,1015.9 962.7,980.2 1106.5,1042.7 1078.7,1059.6 1078.7,1093.7 904.3,1020.9" fill="url(#gInsp)" stroke="none" stroke-width="1" />
<polyline points="962.7,980.2 1106.5,1042.7" fill="none" stroke="#8c93c4" stroke-width="1" />
<path d="M889.9,1007.0 L954.9,967.8 C958.0,966.4 960.7,968.9 962.1,976.7 L904.3,1015.9 L901.3,1030.8 L895.5,1029.1 Z" fill="#ffffff" stroke="#222" stroke-width="1.2" stroke-linejoin="round"/>
<polyline points="904.3,1015.9 895.5,1012.2" fill="none" stroke="#555" stroke-width="0.8" />
<polygon points="1135.4,1112.2 1194.2,1079.2 1241.6,1099.9 1208.6,1121.5 1208.6,1152.5 1128.2,1117.4" fill="url(#gS2)" stroke="none" stroke-width="1" />
<polygon points="1128.2,1117.4 1208.6,1152.5 1208.6,1159.1 1128.2,1123.6" fill="#f7f7f9" stroke="#9aa0be" stroke-width="0.7" />
<polygon points="1261.1,1177.4 1327.1,1140.3 1394.1,1175.3 1345.7,1208.3" fill="url(#gS3)" stroke="none" stroke-width="1" />
<polygon points="1261.1,1177.4 1345.7,1208.3 1341.5,1216.6 1260.0,1184.6" fill="#f7f7f9" stroke="#9aa0be" stroke-width="0.7" />
<polyline points="1327.1,1140.3 1394.1,1175.3" fill="none" stroke="#8c93c4" stroke-width="1" />
<polygon points="1074.5,1131.8 1126.1,1153.5 1150.9,1139.1 1148.8,1134.9" fill="#e9e9e9" stroke="none" stroke-width="1" />
<path d="M1077.6,1067.9 C1080.7,1059.6 1091.0,1054.5 1103.4,1054.5 L1136.4,1022.5 C1152.9,1010.1 1181.8,1010.1 1193.1,1039.0 L1193.1,1077.2 L1128.2,1115.3 L1128.2,1151.4 L1148.8,1138.0 L1148.8,1105.0 Z" fill="#ffffff" stroke="#151515" stroke-width="1.5" stroke-linejoin="round"/>
<path d="M1077.6,1067.9 L1136.4,1022.5 C1152.9,1010.1 1181.8,1010.1 1193.1,1039.0 L1193.1,1077.2 L1128.2,1115.3 L1128.2,1072.0 C1126.1,1061.7 1115.8,1054.5 1103.4,1054.5 C1091.0,1054.5 1080.7,1059.6 1077.6,1067.9 Z" fill="#ffffff" stroke="#151515" stroke-width="1.5" stroke-linejoin="round"/>
<polygon points="1128.2,1115.3 1148.8,1104.0 1148.8,1138.0 1128.2,1151.4" fill="#ffffff" stroke="#151515" stroke-width="1.2" stroke-linejoin="round"/>
<path d="M1077.6,1131.8 L1077.6,1067.9 C1080.7,1059.6 1091.0,1054.5 1103.4,1054.5 C1115.8,1054.5 1126.1,1061.7 1128.2,1072.0 L1128.2,1151.4 L1126.1,1152.5 Z" fill="#ffffff" stroke="#151515" stroke-width="1.5" stroke-linejoin="round"/>
<polygon points="1090.0,1082.3 1115.8,1092.6 1099.3,1133.9" fill="#ffffff" stroke="#222" stroke-width="1.3" stroke-linejoin="round"/>
<polygon points="1197.1,1201.1 1206.4,1196.0 1259.0,1218.7 1283.8,1203.2 1285.8,1208.3 1263.1,1229.0 1199.2,1205.2" fill="#e6e6e6" stroke="#bdbdbd" stroke-width="0.6" />
<path d="M1206.4,1132.0 L1267.3,1088.7 C1283.8,1074.3 1312.6,1074.3 1325.0,1107.3 L1325.0,1137.2 L1259.0,1177.4 L1259.0,1142.3 C1257.0,1127.9 1246.6,1119.6 1232.2,1119.6 C1219.8,1119.6 1209.5,1123.8 1206.4,1132.0 Z" fill="#ffffff" stroke="#151515" stroke-width="1.5" stroke-linejoin="round"/>
<polygon points="1259.0,1177.4 1283.8,1163.0 1283.8,1203.2 1259.0,1218.7" fill="#ffffff" stroke="#151515" stroke-width="1.2" stroke-linejoin="round"/>
<path d="M1206.4,1198.0 L1206.4,1132.0 C1209.5,1123.8 1219.8,1119.6 1232.2,1119.6 C1246.6,1119.6 1257.0,1127.9 1259.0,1142.3 L1259.0,1218.7 Z" fill="#ffffff" stroke="#151515" stroke-width="1.5" stroke-linejoin="round"/>
<ellipse cx="1230.1" cy="1154.7" rx="9.5" ry="11" transform="rotate(-25 1230.1 1154.7)" fill="#f2f2f2" stroke="#222" stroke-width="1.4"/>
<ellipse cx="1230.1" cy="1154.7" rx="4.5" ry="5.5" transform="rotate(-25 1230.1 1154.7)" fill="none" stroke="#555" stroke-width="0.9"/>
<ellipse cx="1230.1" cy="1186.7" rx="9.5" ry="11" transform="rotate(-25 1230.1 1186.7)" fill="#f2f2f2" stroke="#222" stroke-width="1.4"/>
<ellipse cx="1230.1" cy="1186.7" rx="4.5" ry="5.5" transform="rotate(-25 1230.1 1186.7)" fill="none" stroke="#555" stroke-width="0.9"/>
<path d="M1345.7,1255.8 C1358.0,1276.4 1374.5,1285.7 1391.0,1282.6 L1453.9,1243.4 L1453.9,1226.9 L1391.0,1274.3 Z" fill="#e9ecf1" stroke="#c7ccd6" stroke-width="0.8" />
<path d="M1345.7,1208.3 L1394.1,1175.3 C1403.4,1168.1 1419.9,1167.1 1434.3,1179.5 C1448.8,1193.9 1455.0,1212.5 1452.9,1229.0 L1391.0,1275.4 C1374.5,1278.5 1353.9,1268.2 1341.5,1243.4 C1335.3,1226.9 1337.4,1214.5 1345.7,1208.3 Z" fill="url(#gOutCoil)" stroke="#7d90ad" stroke-width="1.2" />
<path d="M1366.3,1206.3 L1434.3,1179.5 C1448.8,1193.9 1455.0,1212.5 1452.9,1229.0 L1391.0,1275.4 C1399.3,1255.8 1395.2,1222.8 1366.3,1206.3 Z" fill="url(#gOutCoil2)" stroke="none" stroke-width="1" />
<ellipse cx="1368.3" cy="1240.3" rx="28" ry="38" transform="rotate(-22 1368.3 1240.3)" fill="#f2c922"/>
<g clip-path="url(#cFace)">
<path d="M1375.6,1196.0 C1366.3,1214.5 1373.5,1224.8 1366.3,1239.3 C1374.5,1255.8 1367.3,1268.2 1376.6,1288.8 L1417.8,1288.8 L1417.8,1196.0 Z" fill="#8e9fb4" stroke="none" stroke-width="1" />
<path d="M1375.6,1196.0 C1366.3,1214.5 1373.5,1224.8 1366.3,1239.3 C1374.5,1255.8 1367.3,1268.2 1376.6,1288.8" fill="none" stroke="#c9cba0" stroke-width="3" />
</g>
<ellipse cx="1368.3" cy="1240.3" rx="28" ry="38" transform="rotate(-22 1368.3 1240.3)" fill="none" stroke="#7d8fa8" stroke-width="2.2"/>
<ellipse cx="1368.3" cy="1240.3" rx="12.5" ry="16" transform="rotate(-22 1368.3 1240.3)" fill="#8696ab"/>
<ellipse cx="1369.8" cy="1240.9" rx="7.5" ry="10.5" transform="rotate(-22 1369.8 1240.9)" fill="#f0c112"/>
<path d="M1723.7,1400.3 L1832.9,1348.6 C1841.6,1346.2 1854.7,1352.8 1864.6,1369.1 C1875.5,1389.9 1876.6,1412.8 1870.0,1429.2 L1778.3,1482.7 C1765.2,1487.1 1749.9,1483.8 1736.8,1467.4 C1723.7,1451.1 1712.8,1423.8 1716.0,1412.8 C1717.7,1406.3 1720.4,1401.9 1723.7,1400.3 Z" fill="url(#gEG)" stroke="none" stroke-width="1" />
<g clip-path="url(#cEG)">
<path d="M1728.1,1454.3 L1747.7,1440.1 L1763.0,1435.8 L1783.8,1456.5 L1782.7,1482.7 L1745.5,1483.8 Z" fill="#e3ddd0" stroke="none" stroke-width="1" opacity="0.9"/>
<path d="M1724.8,1401.9 C1741.2,1407.4 1763.0,1424.8 1773.9,1443.4 C1781.6,1457.6 1784.8,1472.9 1782.7,1483.8" fill="none" stroke="#3f62d6" stroke-width="2.6" />
<path d="M1745.5,1389.9 C1761.9,1395.4 1782.7,1409.6 1795.8,1427.0" fill="none" stroke="#3f62d6" stroke-width="2.6" />
<path d="M1777.2,1372.4 C1795.8,1376.8 1812.1,1392.1 1817.6,1418.3 C1819.8,1434.7 1816.5,1451.1 1811.1,1464.2" fill="none" stroke="#3f62d6" stroke-width="2.6" />
<path d="M1808.9,1358.2 C1827.4,1363.7 1843.8,1381.2 1848.2,1407.4 C1849.8,1423.8 1847.1,1435.8 1842.7,1443.4" fill="none" stroke="#3f62d6" stroke-width="2.6" />
<path d="M1758.6,1429.2 L1867.8,1372.4" fill="none" stroke="#3f62d6" stroke-width="2.2" />
<path d="M1728.1,1454.3 L1747.7,1440.1" fill="none" stroke="#3f62d6" stroke-width="2" />
</g>
<path d="M1739.0,1430.3 C1741.2,1423.8 1749.9,1421.6 1756.4,1426.5 C1763.0,1430.3 1764.1,1439.0 1760.8,1444.5 L1745.5,1441.2 C1740.1,1439.0 1737.9,1434.7 1739.0,1430.3 Z" fill="#5b6c86" stroke="#27335a" stroke-width="1" />
<path d="M1745.5,1441.2 C1749.9,1434.7 1756.4,1435.8 1759.7,1443.4 L1763.0,1456.5 L1747.7,1446.7 Z" fill="#c9cdd6" stroke="#4a5570" stroke-width="0.8" />
<path d="M1723.7,1400.3 L1832.9,1348.6 C1841.6,1346.2 1854.7,1352.8 1864.6,1369.1 C1875.5,1389.9 1876.6,1412.8 1870.0,1429.2 L1778.3,1482.7 C1765.2,1487.1 1749.9,1483.8 1736.8,1467.4 C1723.7,1451.1 1712.8,1423.8 1716.0,1412.8 C1717.7,1406.3 1720.4,1401.9 1723.7,1400.3 Z" fill="none" stroke="#27335a" stroke-width="1.6" />
<text class="h" x="827" y="89" font-size="48" textLength="295" lengthAdjust="spacingAndGlyphs" style="stroke-width:2.0">Input Process</text>
<text class="h" x="270" y="255.5" font-size="47" textLength="475" lengthAdjust="spacingAndGlyphs">Pre-Treatment Process</text>
<text class="h" x="55" y="389.5" font-size="47" textLength="442" lengthAdjust="spacingAndGlyphs">Electrical Galvanizing</text>
<text class="h" x="745" y="750.5" font-size="47" textLength="597" lengthAdjust="spacingAndGlyphs">Phosphate Thin-Film Coating</text>
<text class="h" x="883" y="840.5" font-size="47" textLength="560" lengthAdjust="spacingAndGlyphs">Anti-Fingerprinting Process</text>
<text class="h" x="1538" y="1163" font-size="47" textLength="317" lengthAdjust="spacingAndGlyphs">Output Process</text>
<text class="l" x="1228" y="189" font-size="45" textLength="332" lengthAdjust="spacingAndGlyphs">Cold Rolled Steel</text>
<text class="l" x="1070" y="372" font-size="45" textLength="152" lengthAdjust="spacingAndGlyphs">Shearer</text>
<text class="l" x="960" y="446" font-size="45" textLength="255" lengthAdjust="spacingAndGlyphs">Entry Looper</text>
<text class="l" x="752" y="555" font-size="45" textLength="320" lengthAdjust="spacingAndGlyphs">Tension Leveller</text>
<text class="l" x="514" y="679" font-size="45" textLength="308" lengthAdjust="spacingAndGlyphs">Coating Section</text>
<text x="172" y="947" font-size="45" textLength="428" lengthAdjust="spacingAndGlyphs" fill="#fff" stroke="#fff" stroke-width="16" stroke-linejoin="round" paint-order="stroke">Chromate, Phosphate</text>
<text class="l" x="172" y="946" font-size="45" textLength="428" lengthAdjust="spacingAndGlyphs">Chromate, Phosphate</text>
<text x="343" y="1006" font-size="43" textLength="354" lengthAdjust="spacingAndGlyphs" fill="#fff" stroke="#fff" stroke-width="16" stroke-linejoin="round" paint-order="stroke">Anti-Fingerprinting</text>
<text class="l" x="343" y="1005" font-size="43" textLength="354" lengthAdjust="spacingAndGlyphs">Anti-Fingerprinting</text>
<text class="l" x="597" y="1124" font-size="45" textLength="221" lengthAdjust="spacingAndGlyphs">Exit Looper</text>
<text class="l" x="1058" y="987" font-size="45" textLength="324" lengthAdjust="spacingAndGlyphs">Inspection Table</text>
<text class="l" x="985" y="1204" font-size="45" textLength="115" lengthAdjust="spacingAndGlyphs">Oiling</text>
<text class="l" x="1119" y="1267" font-size="45" textLength="152" lengthAdjust="spacingAndGlyphs">Shearer</text>
<text class="l" x="1527" y="1546" font-size="45" textLength="593" lengthAdjust="spacingAndGlyphs">Electrical Galvanized Steel(EG)</text>
<circle cx="973.7" cy="139.7" r="30.7" fill="#e4451a"/>
<path d="M970.5,121.4 h7.2 v28.5 h6.6 v7.2 h-21 v-7.2 h7.2 v-19 h-6.6 v-6.4 z" fill="#fff" stroke="#fff" stroke-width="1.2" stroke-linejoin="round"/>
<circle cx="619" cy="316.6" r="30.8" fill="#2b7ac6"/>
<text class="n" transform="translate(619,333.40000000000003) scale(1.13,1)" x="0" y="0" font-size="49">2</text>
<circle cx="407.6" cy="447.6" r="30.8" fill="#2b7ac6"/>
<text class="n" transform="translate(407.6,464.40000000000003) scale(1.13,1)" x="0" y="0" font-size="49">3</text>
<circle cx="687.7" cy="770.6" r="30.8" fill="#2b7ac6"/>
<text class="n" transform="translate(687.7,787.4) scale(1.13,1)" x="0" y="0" font-size="49">4</text>
<circle cx="827.2" cy="830.4" r="30.8" fill="#2b7ac6"/>
<text class="n" transform="translate(827.2,847.1999999999999) scale(1.13,1)" x="0" y="0" font-size="49">5</text>
<circle cx="1483.8" cy="1150.2" r="30.8" fill="#2b7ac6"/>
<text class="n" transform="translate(1483.8,1167.0) scale(1.13,1)" x="0" y="0" font-size="49">6</text>
</svg>
</body></html>
